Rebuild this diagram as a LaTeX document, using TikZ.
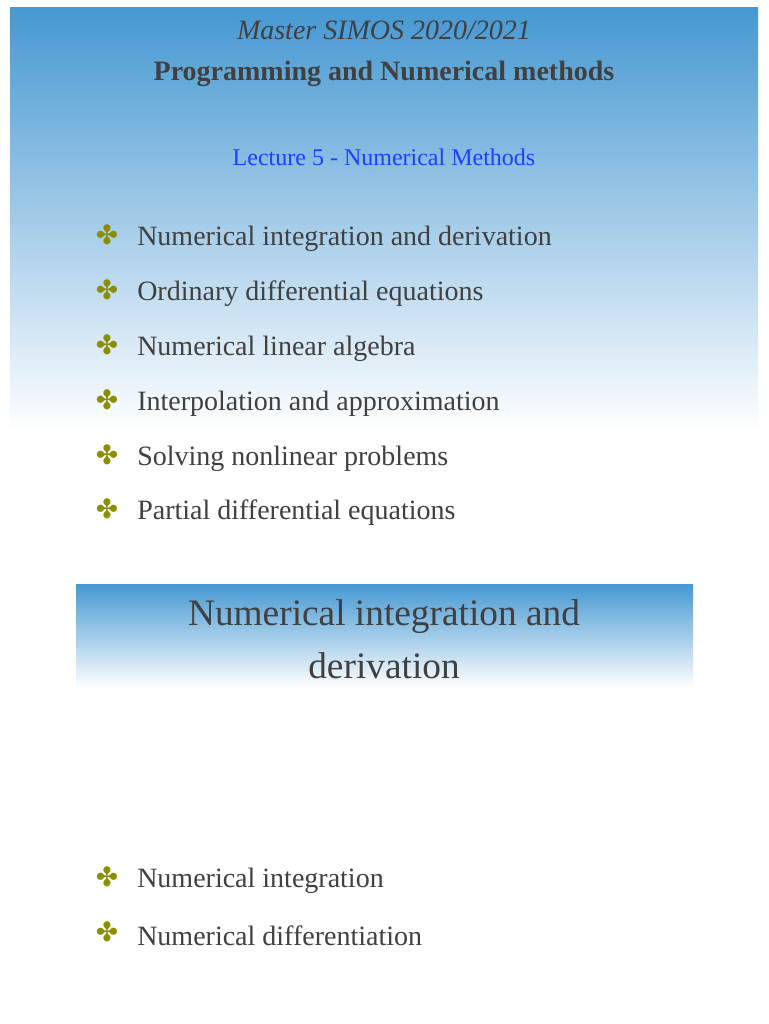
\documentclass[tikz,border=0pt]{standalone}
\usepackage{fontspec}
\setmainfont{Liberation Serif}
\newfontfamily\dejavu{DejaVu Sans}
\definecolor{topblue}{HTML}{4698D2}
\definecolor{txt}{HTML}{404040}
\definecolor{olive}{HTML}{8A8E00}
\definecolor{lec}{HTML}{1F3FFF}
\tikzset{
  itemtxt/.style={anchor=west,text=txt,font=\fontsize{21}{24}\selectfont,inner sep=0},
  bul/.style={anchor=center,text=olive,font=\dejavu\fontsize{20}{20}\selectfont,inner sep=0},
}
\begin{document}
\begin{tikzpicture}[x=0.75pt,y=-0.75pt]
\useasboundingbox (0,0) rectangle (768,1024);
\fill[white] (0,0) rectangle (768,1024);
\shade[top color=topblue,bottom color=white] (10,8) rectangle (758,432);
\shade[top color=topblue,bottom color=white] (76,584) rectangle (693,688);
\node[text=txt,font=\itshape\fontsize{21}{24}\selectfont] (t1) at (384,30) {Master SIMOS 2020/2021};
\node[text=txt,font=\bfseries\fontsize{21}{24}\selectfont] (t2) at (384,74) {Programming and Numerical methods};
\node[text=lec,font=\fontsize{18}{22}\selectfont] (t3) at (384,157) {Lecture 5 - Numerical Methods};
\foreach \y/\t [count=\i] in {239/Numerical integration and derivation,294/Ordinary differential equations,349/Numerical linear algebra,404/Interpolation and approximation,459/Solving nonlinear problems,513/Partial differential equations,881/Numerical integration,936/Numerical differentiation}{
  \node[bul] (b\i) at (107,\y-4) {✤};
  \node[itemtxt] (i\i) at (137,\y) {\t};
}
\node[text=txt,font=\fontsize{28}{40}\selectfont,align=center] (h) at (384,639) {Numerical integration and\\derivation};
\end{tikzpicture}
\end{document}
